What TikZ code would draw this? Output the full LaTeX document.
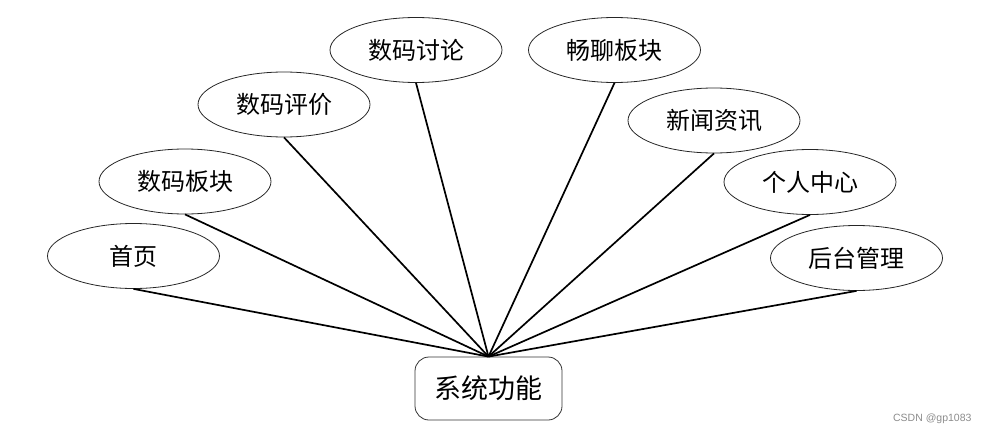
\documentclass[tikz,border=0pt]{standalone}
\usepackage{fontspec}
\usetikzlibrary{shapes.geometric}
\newfontfamily\cjk{Noto Sans CJK SC}
\setsansfont{Liberation Sans}
\begin{document}
\begin{tikzpicture}[x=1pt,y=-1pt,
  item/.style={draw=black!85,line width=0.8pt,ellipse,minimum width=172pt,minimum height=65pt,inner sep=0pt,font=\cjk\fontsize{24}{24}\selectfont},
  rootbox/.style={draw=black!80,line width=0.8pt,rounded corners=14pt,minimum width=147pt,minimum height=63pt,inner sep=0pt,font=\cjk\fontsize{27}{27}\selectfont},
  link/.style={line width=1.7pt,black}]
\useasboundingbox (0,0) rectangle (990,436);
\node[rootbox] (root) at (488.5,388.5) {系统功能};
\node[item] (a1) at (133.5,256) {首页};
\node[item] (a2) at (185,181.5) {数码板块};
\node[item] (a3) at (284,104.5) {数码评价};
\node[item] (a4) at (416,50) {数码讨论};
\node[item] (a5) at (614.5,50) {畅聊板块};
\node[item] (a6) at (714,120.5) {新闻资讯};
\node[item] (a7) at (810,182) {个人中心};
\node[item] (a8) at (856.5,258) {后台管理};
\coordinate (hub) at (root.north);
\draw[link] (a1.south) -- (hub);
\draw[link] (a2.south) -- (hub);
\draw[link] (a3.south) -- (hub);
\draw[link] (a4.south) -- (hub);
\draw[link] (a5.south) -- (hub);
\draw[link] (a6.south) -- (hub);
\draw[link] (a7.south) -- (hub);
\draw[link] (a8.south) -- (hub);
\node[font=\sffamily\fontsize{10.5}{10.5}\selectfont,text=black!45,anchor=east] (wm) at (975,419) {CSDN @gp1083};
\end{tikzpicture}
\end{document}
